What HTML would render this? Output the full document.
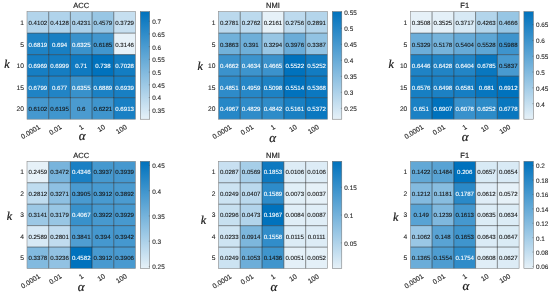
<!DOCTYPE html>
<html lang="en"><head><meta charset="utf-8"><title>Heatmaps</title><style>
html,body{margin:0;padding:0;background:#fff;}
body{width:550px;height:295px;overflow:hidden;}
svg{display:block;font-family:"Liberation Sans",sans-serif;text-rendering:geometricPrecision;}
text{stroke-width:0.1px;paint-order:stroke;}
.t,.yt,.xt,.ct{stroke:#262626;}
.cd{stroke:#151515;}
.cw{stroke:#fff;}
.c{font-size:6.1px;text-anchor:middle;}
.cd{fill:#151515;}
.cw{fill:#ffffff;}
.t{font-size:7.5px;stroke-width:0.2px;text-anchor:middle;fill:#262626;}
.yt{font-size:6.65px;text-anchor:end;fill:#262626;}
.xt{font-size:6.85px;stroke-width:0.15px;text-anchor:end;fill:#262626;}
.ct{font-size:6.4px;text-anchor:start;fill:#262626;}
.lb{font-family:"Liberation Serif",serif;font-style:italic;font-size:12px;text-anchor:middle;fill:#1a1a1a;stroke:#1a1a1a;stroke-width:0.22px;}
.la{font-size:13px;}
.gl{stroke:#1a1a1a;stroke-width:0.55;stroke-opacity:0.9;}
.bx{fill:none;stroke:#8a8a8a;stroke-width:0.6;}
.cbx{stroke:#6a6a6a;stroke-width:0.5;}
.tk{stroke:#333;stroke-width:0.35;}
</style></head><body>
<svg width="550" height="295" viewBox="0 0 550 295">
<defs><linearGradient id="cb" x1="0" y1="0" x2="0" y2="1"><stop offset="0" stop-color="#0072bd"/><stop offset="1" stop-color="#e6f1f8"/></linearGradient></defs>
<rect width="550" height="295" fill="#fff"/>
<g>
<rect x="27.00" y="11.60" width="21.74" height="21.57" fill="#b2d4eb"/>
<rect x="48.69" y="11.60" width="21.74" height="21.57" fill="#b0d3eb"/>
<rect x="70.38" y="11.60" width="21.74" height="21.57" fill="#abd0e9"/>
<rect x="92.07" y="11.60" width="21.74" height="21.57" fill="#98c6e4"/>
<rect x="113.76" y="11.60" width="21.74" height="21.57" fill="#c6dff0"/>
<rect x="27.00" y="33.12" width="21.74" height="21.57" fill="#1e83c5"/>
<rect x="48.69" y="33.12" width="21.74" height="21.57" fill="#187fc3"/>
<rect x="70.38" y="33.12" width="21.74" height="21.57" fill="#3992cc"/>
<rect x="92.07" y="33.12" width="21.74" height="21.57" fill="#4196ce"/>
<rect x="113.76" y="33.12" width="21.74" height="21.57" fill="#e6f1f8"/>
<rect x="27.00" y="54.64" width="21.74" height="21.57" fill="#167ec3"/>
<rect x="48.69" y="54.64" width="21.74" height="21.57" fill="#157dc2"/>
<rect x="70.38" y="54.64" width="21.74" height="21.57" fill="#0f7ac1"/>
<rect x="92.07" y="54.64" width="21.74" height="21.57" fill="#0072bd"/>
<rect x="113.76" y="54.64" width="21.74" height="21.57" fill="#137dc2"/>
<rect x="27.00" y="76.16" width="21.74" height="21.57" fill="#1f83c5"/>
<rect x="48.69" y="76.16" width="21.74" height="21.57" fill="#2184c6"/>
<rect x="70.38" y="76.16" width="21.74" height="21.57" fill="#3891cb"/>
<rect x="92.07" y="76.16" width="21.74" height="21.57" fill="#1b81c4"/>
<rect x="113.76" y="76.16" width="21.74" height="21.57" fill="#187fc3"/>
<rect x="27.00" y="97.68" width="21.74" height="21.57" fill="#4598cf"/>
<rect x="48.69" y="97.68" width="21.74" height="21.57" fill="#4096ce"/>
<rect x="70.38" y="97.68" width="21.74" height="21.57" fill="#4b9bd0"/>
<rect x="92.07" y="97.68" width="21.74" height="21.57" fill="#3f95cd"/>
<rect x="113.76" y="97.68" width="21.74" height="21.57" fill="#1980c4"/>
<line x1="48.69" y1="11.60" x2="48.69" y2="119.20" class="gl"/>
<line x1="27.00" y1="33.12" x2="135.45" y2="33.12" class="gl"/>
<line x1="70.38" y1="11.60" x2="70.38" y2="119.20" class="gl"/>
<line x1="27.00" y1="54.64" x2="135.45" y2="54.64" class="gl"/>
<line x1="92.07" y1="11.60" x2="92.07" y2="119.20" class="gl"/>
<line x1="27.00" y1="76.16" x2="135.45" y2="76.16" class="gl"/>
<line x1="113.76" y1="11.60" x2="113.76" y2="119.20" class="gl"/>
<line x1="27.00" y1="97.68" x2="135.45" y2="97.68" class="gl"/>
<rect x="27.00" y="11.60" width="108.45" height="107.60" class="bx"/>
<text x="37.84" y="25.06" class="c cd">0.4102</text>
<text x="59.54" y="25.06" class="c cd">0.4128</text>
<text x="81.22" y="25.06" class="c cd">0.4231</text>
<text x="102.92" y="25.06" class="c cd">0.4579</text>
<text x="124.61" y="25.06" class="c cd">0.3729</text>
<text x="37.84" y="46.58" class="c cw">0.6819</text>
<text x="59.54" y="46.58" class="c cw">0.694</text>
<text x="81.22" y="46.58" class="c cw">0.6325</text>
<text x="102.92" y="46.58" class="c cd">0.6185</text>
<text x="124.61" y="46.58" class="c cd">0.3146</text>
<text x="37.84" y="68.10" class="c cw">0.6969</text>
<text x="59.54" y="68.10" class="c cw">0.6999</text>
<text x="81.22" y="68.10" class="c cw">0.71</text>
<text x="102.92" y="68.10" class="c cw">0.738</text>
<text x="124.61" y="68.10" class="c cw">0.7028</text>
<text x="37.84" y="89.62" class="c cw">0.6799</text>
<text x="59.54" y="89.62" class="c cw">0.677</text>
<text x="81.22" y="89.62" class="c cw">0.6355</text>
<text x="102.92" y="89.62" class="c cw">0.6889</text>
<text x="124.61" y="89.62" class="c cw">0.6939</text>
<text x="37.84" y="111.14" class="c cd">0.6102</text>
<text x="59.54" y="111.14" class="c cd">0.6195</text>
<text x="81.22" y="111.14" class="c cd">0.6</text>
<text x="102.92" y="111.14" class="c cd">0.6221</text>
<text x="124.61" y="111.14" class="c cw">0.6913</text>
<text x="81.22" y="8.10" class="t">ACC</text>
<text x="24.00" y="25.26" class="yt">1</text>
<text x="24.00" y="46.78" class="yt">5</text>
<text x="24.00" y="68.30" class="yt">10</text>
<text x="24.00" y="89.82" class="yt">15</text>
<text x="24.00" y="111.34" class="yt">20</text>
<text transform="translate(38.34 124.60) rotate(-32)" x="0" y="4.3" class="xt">0.0001</text>
<text transform="translate(60.04 124.60) rotate(-32)" x="0" y="4.3" class="xt">0.01</text>
<text transform="translate(81.72 124.60) rotate(-32)" x="0" y="4.3" class="xt">1</text>
<text transform="translate(103.42 124.60) rotate(-32)" x="0" y="4.3" class="xt">10</text>
<text transform="translate(125.11 124.60) rotate(-32)" x="0" y="4.3" class="xt">100</text>
<text x="6.80" y="68.40" class="lb">k</text>
<text x="82.15" y="139.50" class="lb la">α</text>
<rect x="140.25" y="11.60" width="9.5" height="107.60" fill="url(#cb)" class="cbx"/>
<line x1="148.75" y1="110.20" x2="149.75" y2="110.20" class="tk"/>
<text x="152.25" y="113.05" class="ct">0.35</text>
<line x1="148.75" y1="97.50" x2="149.75" y2="97.50" class="tk"/>
<text x="152.25" y="100.35" class="ct">0.4</text>
<line x1="148.75" y1="84.79" x2="149.75" y2="84.79" class="tk"/>
<text x="152.25" y="87.64" class="ct">0.45</text>
<line x1="148.75" y1="72.08" x2="149.75" y2="72.08" class="tk"/>
<text x="152.25" y="74.93" class="ct">0.5</text>
<line x1="148.75" y1="59.38" x2="149.75" y2="59.38" class="tk"/>
<text x="152.25" y="62.23" class="ct">0.55</text>
<line x1="148.75" y1="46.67" x2="149.75" y2="46.67" class="tk"/>
<text x="152.25" y="49.52" class="ct">0.6</text>
<line x1="148.75" y1="33.96" x2="149.75" y2="33.96" class="tk"/>
<text x="152.25" y="36.81" class="ct">0.65</text>
<line x1="148.75" y1="21.26" x2="149.75" y2="21.26" class="tk"/>
<text x="152.25" y="24.11" class="ct">0.7</text>
</g>
<g>
<rect x="218.40" y="11.60" width="21.87" height="21.57" fill="#bbd9ed"/>
<rect x="240.22" y="11.60" width="21.87" height="21.57" fill="#bcdaee"/>
<rect x="262.04" y="11.60" width="21.87" height="21.57" fill="#e6f1f8"/>
<rect x="283.86" y="11.60" width="21.87" height="21.57" fill="#bddaee"/>
<rect x="305.68" y="11.60" width="21.87" height="21.57" fill="#b4d5eb"/>
<rect x="218.40" y="33.12" width="21.87" height="21.57" fill="#71b1da"/>
<rect x="240.22" y="33.12" width="21.87" height="21.57" fill="#6eafd9"/>
<rect x="262.04" y="33.12" width="21.87" height="21.57" fill="#98c6e4"/>
<rect x="283.86" y="33.12" width="21.87" height="21.57" fill="#6aacd8"/>
<rect x="305.68" y="33.12" width="21.87" height="21.57" fill="#92c3e3"/>
<rect x="218.40" y="54.64" width="21.87" height="21.57" fill="#3b92cc"/>
<rect x="240.22" y="54.64" width="21.87" height="21.57" fill="#3d94cd"/>
<rect x="262.04" y="54.64" width="21.87" height="21.57" fill="#3b92cc"/>
<rect x="283.86" y="54.64" width="21.87" height="21.57" fill="#0072bd"/>
<rect x="305.68" y="54.64" width="21.87" height="21.57" fill="#127cc2"/>
<rect x="218.40" y="76.16" width="21.87" height="21.57" fill="#2e8bc9"/>
<rect x="240.22" y="76.16" width="21.87" height="21.57" fill="#2687c7"/>
<rect x="262.04" y="76.16" width="21.87" height="21.57" fill="#1d82c4"/>
<rect x="283.86" y="76.16" width="21.87" height="21.57" fill="#0172bd"/>
<rect x="305.68" y="76.16" width="21.87" height="21.57" fill="#0b78c0"/>
<rect x="218.40" y="97.68" width="21.87" height="21.57" fill="#2687c7"/>
<rect x="240.22" y="97.68" width="21.87" height="21.57" fill="#2f8cc9"/>
<rect x="262.04" y="97.68" width="21.87" height="21.57" fill="#2e8cc9"/>
<rect x="283.86" y="97.68" width="21.87" height="21.57" fill="#1980c3"/>
<rect x="305.68" y="97.68" width="21.87" height="21.57" fill="#0a78c0"/>
<line x1="240.22" y1="11.60" x2="240.22" y2="119.20" class="gl"/>
<line x1="218.40" y1="33.12" x2="327.50" y2="33.12" class="gl"/>
<line x1="262.04" y1="11.60" x2="262.04" y2="119.20" class="gl"/>
<line x1="218.40" y1="54.64" x2="327.50" y2="54.64" class="gl"/>
<line x1="283.86" y1="11.60" x2="283.86" y2="119.20" class="gl"/>
<line x1="218.40" y1="76.16" x2="327.50" y2="76.16" class="gl"/>
<line x1="305.68" y1="11.60" x2="305.68" y2="119.20" class="gl"/>
<line x1="218.40" y1="97.68" x2="327.50" y2="97.68" class="gl"/>
<rect x="218.40" y="11.60" width="109.10" height="107.60" class="bx"/>
<text x="229.31" y="25.06" class="c cd">0.2781</text>
<text x="251.13" y="25.06" class="c cd">0.2762</text>
<text x="272.95" y="25.06" class="c cd">0.2161</text>
<text x="294.77" y="25.06" class="c cd">0.2756</text>
<text x="316.59" y="25.06" class="c cd">0.2891</text>
<text x="229.31" y="46.58" class="c cd">0.3863</text>
<text x="251.13" y="46.58" class="c cd">0.391</text>
<text x="272.95" y="46.58" class="c cd">0.3294</text>
<text x="294.77" y="46.58" class="c cd">0.3976</text>
<text x="316.59" y="46.58" class="c cd">0.3387</text>
<text x="229.31" y="68.10" class="c cw">0.4662</text>
<text x="251.13" y="68.10" class="c cw">0.4634</text>
<text x="272.95" y="68.10" class="c cw">0.4665</text>
<text x="294.77" y="68.10" class="c cw">0.5522</text>
<text x="316.59" y="68.10" class="c cw">0.5252</text>
<text x="229.31" y="89.62" class="c cw">0.4851</text>
<text x="251.13" y="89.62" class="c cw">0.4959</text>
<text x="272.95" y="89.62" class="c cw">0.5098</text>
<text x="294.77" y="89.62" class="c cw">0.5514</text>
<text x="316.59" y="89.62" class="c cw">0.5368</text>
<text x="229.31" y="111.14" class="c cw">0.4967</text>
<text x="251.13" y="111.14" class="c cw">0.4829</text>
<text x="272.95" y="111.14" class="c cw">0.4842</text>
<text x="294.77" y="111.14" class="c cw">0.5161</text>
<text x="316.59" y="111.14" class="c cw">0.5372</text>
<text x="272.95" y="8.10" class="t">NMI</text>
<text x="215.40" y="25.26" class="yt">1</text>
<text x="215.40" y="46.78" class="yt">5</text>
<text x="215.40" y="68.30" class="yt">10</text>
<text x="215.40" y="89.82" class="yt">15</text>
<text x="215.40" y="111.34" class="yt">20</text>
<text transform="translate(229.81 124.60) rotate(-32)" x="0" y="4.3" class="xt">0.0001</text>
<text transform="translate(251.63 124.60) rotate(-32)" x="0" y="4.3" class="xt">0.01</text>
<text transform="translate(273.45 124.60) rotate(-32)" x="0" y="4.3" class="xt">1</text>
<text transform="translate(295.27 124.60) rotate(-32)" x="0" y="4.3" class="xt">10</text>
<text transform="translate(317.09 124.60) rotate(-32)" x="0" y="4.3" class="xt">100</text>
<text x="200.05" y="70.00" class="lb">k</text>
<text x="272.70" y="142.00" class="lb la">α</text>
<rect x="332.30" y="11.60" width="9.5" height="107.60" fill="url(#cb)" class="cbx"/>
<line x1="340.80" y1="108.35" x2="341.80" y2="108.35" class="tk"/>
<text x="344.30" y="111.20" class="ct">0.25</text>
<line x1="340.80" y1="92.34" x2="341.80" y2="92.34" class="tk"/>
<text x="344.30" y="95.19" class="ct">0.3</text>
<line x1="340.80" y1="76.33" x2="341.80" y2="76.33" class="tk"/>
<text x="344.30" y="79.18" class="ct">0.35</text>
<line x1="340.80" y1="60.33" x2="341.80" y2="60.33" class="tk"/>
<text x="344.30" y="63.18" class="ct">0.4</text>
<line x1="340.80" y1="44.32" x2="341.80" y2="44.32" class="tk"/>
<text x="344.30" y="47.17" class="ct">0.45</text>
<line x1="340.80" y1="28.31" x2="341.80" y2="28.31" class="tk"/>
<text x="344.30" y="31.16" class="ct">0.5</text>
<line x1="340.80" y1="12.30" x2="341.80" y2="12.30" class="tk"/>
<text x="344.30" y="15.15" class="ct">0.55</text>
</g>
<g>
<rect x="410.30" y="11.60" width="21.81" height="21.57" fill="#e6f1f8"/>
<rect x="432.06" y="11.60" width="21.81" height="21.57" fill="#e4f0f8"/>
<rect x="453.82" y="11.60" width="21.81" height="21.57" fill="#d7e9f5"/>
<rect x="475.58" y="11.60" width="21.81" height="21.57" fill="#b3d5eb"/>
<rect x="497.34" y="11.60" width="21.81" height="21.57" fill="#97c6e4"/>
<rect x="410.30" y="33.12" width="21.81" height="21.57" fill="#6badd9"/>
<rect x="432.06" y="33.12" width="21.81" height="21.57" fill="#75b3db"/>
<rect x="453.82" y="33.12" width="21.81" height="21.57" fill="#66aad7"/>
<rect x="475.58" y="33.12" width="21.81" height="21.57" fill="#5da6d5"/>
<rect x="497.34" y="33.12" width="21.81" height="21.57" fill="#3e94cd"/>
<rect x="410.30" y="54.64" width="21.81" height="21.57" fill="#1f83c5"/>
<rect x="432.06" y="54.64" width="21.81" height="21.57" fill="#2184c5"/>
<rect x="453.82" y="54.64" width="21.81" height="21.57" fill="#2285c6"/>
<rect x="475.58" y="54.64" width="21.81" height="21.57" fill="#0977bf"/>
<rect x="497.34" y="54.64" width="21.81" height="21.57" fill="#489ad0"/>
<rect x="410.30" y="76.16" width="21.81" height="21.57" fill="#177fc3"/>
<rect x="432.06" y="76.16" width="21.81" height="21.57" fill="#1c81c4"/>
<rect x="453.82" y="76.16" width="21.81" height="21.57" fill="#167ec3"/>
<rect x="475.58" y="76.16" width="21.81" height="21.57" fill="#0776bf"/>
<rect x="497.34" y="76.16" width="21.81" height="21.57" fill="#0072bd"/>
<rect x="410.30" y="97.68" width="21.81" height="21.57" fill="#1b81c4"/>
<rect x="432.06" y="97.68" width="21.81" height="21.57" fill="#0072bd"/>
<rect x="453.82" y="97.68" width="21.81" height="21.57" fill="#3891cc"/>
<rect x="475.58" y="97.68" width="21.81" height="21.57" fill="#2c8bc8"/>
<rect x="497.34" y="97.68" width="21.81" height="21.57" fill="#0977bf"/>
<line x1="432.06" y1="11.60" x2="432.06" y2="119.20" class="gl"/>
<line x1="410.30" y1="33.12" x2="519.10" y2="33.12" class="gl"/>
<line x1="453.82" y1="11.60" x2="453.82" y2="119.20" class="gl"/>
<line x1="410.30" y1="54.64" x2="519.10" y2="54.64" class="gl"/>
<line x1="475.58" y1="11.60" x2="475.58" y2="119.20" class="gl"/>
<line x1="410.30" y1="76.16" x2="519.10" y2="76.16" class="gl"/>
<line x1="497.34" y1="11.60" x2="497.34" y2="119.20" class="gl"/>
<line x1="410.30" y1="97.68" x2="519.10" y2="97.68" class="gl"/>
<rect x="410.30" y="11.60" width="108.80" height="107.60" class="bx"/>
<text x="421.18" y="25.06" class="c cd">0.3508</text>
<text x="442.94" y="25.06" class="c cd">0.3525</text>
<text x="464.70" y="25.06" class="c cd">0.3717</text>
<text x="486.46" y="25.06" class="c cd">0.4263</text>
<text x="508.22" y="25.06" class="c cd">0.4666</text>
<text x="421.18" y="46.58" class="c cd">0.5329</text>
<text x="442.94" y="46.58" class="c cd">0.5178</text>
<text x="464.70" y="46.58" class="c cd">0.5404</text>
<text x="486.46" y="46.58" class="c cd">0.5528</text>
<text x="508.22" y="46.58" class="c cd">0.5988</text>
<text x="421.18" y="68.10" class="c cw">0.6446</text>
<text x="442.94" y="68.10" class="c cw">0.6428</text>
<text x="464.70" y="68.10" class="c cw">0.6404</text>
<text x="486.46" y="68.10" class="c cw">0.6785</text>
<text x="508.22" y="68.10" class="c cd">0.5837</text>
<text x="421.18" y="89.62" class="c cw">0.6576</text>
<text x="442.94" y="89.62" class="c cw">0.6498</text>
<text x="464.70" y="89.62" class="c cw">0.6581</text>
<text x="486.46" y="89.62" class="c cw">0.681</text>
<text x="508.22" y="89.62" class="c cw">0.6912</text>
<text x="421.18" y="111.14" class="c cw">0.651</text>
<text x="442.94" y="111.14" class="c cw">0.6907</text>
<text x="464.70" y="111.14" class="c cw">0.6078</text>
<text x="486.46" y="111.14" class="c cw">0.6252</text>
<text x="508.22" y="111.14" class="c cw">0.6778</text>
<text x="464.70" y="8.10" class="t">F1</text>
<text x="407.30" y="25.26" class="yt">1</text>
<text x="407.30" y="46.78" class="yt">5</text>
<text x="407.30" y="68.30" class="yt">10</text>
<text x="407.30" y="89.82" class="yt">15</text>
<text x="407.30" y="111.34" class="yt">20</text>
<text transform="translate(421.68 124.60) rotate(-32)" x="0" y="4.3" class="xt">0.0001</text>
<text transform="translate(443.44 124.60) rotate(-32)" x="0" y="4.3" class="xt">0.01</text>
<text transform="translate(465.20 124.60) rotate(-32)" x="0" y="4.3" class="xt">1</text>
<text transform="translate(486.96 124.60) rotate(-32)" x="0" y="4.3" class="xt">10</text>
<text transform="translate(508.72 124.60) rotate(-32)" x="0" y="4.3" class="xt">100</text>
<text x="391.15" y="68.40" class="lb">k</text>
<text x="465.10" y="140.80" class="lb la">α</text>
<rect x="523.90" y="11.60" width="9.5" height="107.60" fill="url(#cb)" class="cbx"/>
<line x1="532.40" y1="103.65" x2="533.40" y2="103.65" class="tk"/>
<text x="535.90" y="106.50" class="ct">0.4</text>
<line x1="532.40" y1="87.84" x2="533.40" y2="87.84" class="tk"/>
<text x="535.90" y="90.69" class="ct">0.45</text>
<line x1="532.40" y1="72.04" x2="533.40" y2="72.04" class="tk"/>
<text x="535.90" y="74.89" class="ct">0.5</text>
<line x1="532.40" y1="56.23" x2="533.40" y2="56.23" class="tk"/>
<text x="535.90" y="59.08" class="ct">0.55</text>
<line x1="532.40" y1="40.43" x2="533.40" y2="40.43" class="tk"/>
<text x="535.90" y="43.28" class="ct">0.6</text>
<line x1="532.40" y1="24.62" x2="533.40" y2="24.62" class="tk"/>
<text x="535.90" y="27.47" class="ct">0.65</text>
</g>
<g>
<rect x="27.00" y="161.30" width="21.74" height="21.49" fill="#e6f1f8"/>
<rect x="48.69" y="161.30" width="21.74" height="21.49" fill="#78b4dc"/>
<rect x="70.38" y="161.30" width="21.74" height="21.49" fill="#1a80c4"/>
<rect x="92.07" y="161.30" width="21.74" height="21.49" fill="#4699cf"/>
<rect x="113.76" y="161.30" width="21.74" height="21.49" fill="#4698cf"/>
<rect x="27.00" y="182.74" width="21.74" height="21.49" fill="#bfdcef"/>
<rect x="48.69" y="182.74" width="21.74" height="21.49" fill="#8ec0e2"/>
<rect x="70.38" y="182.74" width="21.74" height="21.49" fill="#499ad0"/>
<rect x="92.07" y="182.74" width="21.74" height="21.49" fill="#489ad0"/>
<rect x="113.76" y="182.74" width="21.74" height="21.49" fill="#4b9bd0"/>
<rect x="27.00" y="204.18" width="21.74" height="21.49" fill="#9cc8e5"/>
<rect x="48.69" y="204.18" width="21.74" height="21.49" fill="#98c6e4"/>
<rect x="70.38" y="204.18" width="21.74" height="21.49" fill="#3891cb"/>
<rect x="92.07" y="204.18" width="21.74" height="21.49" fill="#4799cf"/>
<rect x="113.76" y="204.18" width="21.74" height="21.49" fill="#4799cf"/>
<rect x="27.00" y="225.62" width="21.74" height="21.49" fill="#d7e9f5"/>
<rect x="48.69" y="225.62" width="21.74" height="21.49" fill="#c1dcef"/>
<rect x="70.38" y="225.62" width="21.74" height="21.49" fill="#509ed2"/>
<rect x="92.07" y="225.62" width="21.74" height="21.49" fill="#4598cf"/>
<rect x="113.76" y="225.62" width="21.74" height="21.49" fill="#4598cf"/>
<rect x="27.00" y="247.06" width="21.74" height="21.49" fill="#82badf"/>
<rect x="48.69" y="247.06" width="21.74" height="21.49" fill="#92c2e3"/>
<rect x="70.38" y="247.06" width="21.74" height="21.49" fill="#0072bd"/>
<rect x="92.07" y="247.06" width="21.74" height="21.49" fill="#489ad0"/>
<rect x="113.76" y="247.06" width="21.74" height="21.49" fill="#499ad0"/>
<line x1="48.69" y1="161.30" x2="48.69" y2="268.50" class="gl"/>
<line x1="27.00" y1="182.74" x2="135.45" y2="182.74" class="gl"/>
<line x1="70.38" y1="161.30" x2="70.38" y2="268.50" class="gl"/>
<line x1="27.00" y1="204.18" x2="135.45" y2="204.18" class="gl"/>
<line x1="92.07" y1="161.30" x2="92.07" y2="268.50" class="gl"/>
<line x1="27.00" y1="225.62" x2="135.45" y2="225.62" class="gl"/>
<line x1="113.76" y1="161.30" x2="113.76" y2="268.50" class="gl"/>
<line x1="27.00" y1="247.06" x2="135.45" y2="247.06" class="gl"/>
<rect x="27.00" y="161.30" width="108.45" height="107.20" class="bx"/>
<text x="37.84" y="174.32" class="c cd">0.2459</text>
<text x="59.54" y="174.32" class="c cd">0.3472</text>
<text x="81.22" y="174.32" class="c cw">0.4346</text>
<text x="102.92" y="174.32" class="c cd">0.3937</text>
<text x="124.61" y="174.32" class="c cd">0.3939</text>
<text x="37.84" y="195.76" class="c cd">0.2812</text>
<text x="59.54" y="195.76" class="c cd">0.3271</text>
<text x="81.22" y="195.76" class="c cd">0.3905</text>
<text x="102.92" y="195.76" class="c cd">0.3912</text>
<text x="124.61" y="195.76" class="c cd">0.3892</text>
<text x="37.84" y="217.20" class="c cd">0.3141</text>
<text x="59.54" y="217.20" class="c cd">0.3179</text>
<text x="81.22" y="217.20" class="c cw">0.4067</text>
<text x="102.92" y="217.20" class="c cd">0.3922</text>
<text x="124.61" y="217.20" class="c cd">0.3929</text>
<text x="37.84" y="238.64" class="c cd">0.2589</text>
<text x="59.54" y="238.64" class="c cd">0.2801</text>
<text x="81.22" y="238.64" class="c cd">0.3841</text>
<text x="102.92" y="238.64" class="c cd">0.394</text>
<text x="124.61" y="238.64" class="c cd">0.3942</text>
<text x="37.84" y="260.08" class="c cd">0.3378</text>
<text x="59.54" y="260.08" class="c cd">0.3236</text>
<text x="81.22" y="260.08" class="c cw">0.4582</text>
<text x="102.92" y="260.08" class="c cd">0.3912</text>
<text x="124.61" y="260.08" class="c cd">0.3906</text>
<text x="81.22" y="157.80" class="t">ACC</text>
<text x="24.00" y="174.42" class="yt">1</text>
<text x="24.00" y="195.86" class="yt">2</text>
<text x="24.00" y="217.30" class="yt">3</text>
<text x="24.00" y="238.74" class="yt">4</text>
<text x="24.00" y="260.18" class="yt">5</text>
<text transform="translate(38.34 273.90) rotate(-32)" x="0" y="4.3" class="xt">0.0001</text>
<text transform="translate(60.04 273.90) rotate(-32)" x="0" y="4.3" class="xt">0.01</text>
<text transform="translate(81.72 273.90) rotate(-32)" x="0" y="4.3" class="xt">1</text>
<text transform="translate(103.42 273.90) rotate(-32)" x="0" y="4.3" class="xt">10</text>
<text transform="translate(125.11 273.90) rotate(-32)" x="0" y="4.3" class="xt">100</text>
<text x="9.50" y="220.00" class="lb">k</text>
<text x="81.25" y="291.30" class="lb la">α</text>
<rect x="140.25" y="161.30" width="9.5" height="107.20" fill="url(#cb)" class="cbx"/>
<line x1="148.75" y1="266.43" x2="149.75" y2="266.43" class="tk"/>
<text x="152.25" y="269.28" class="ct">0.25</text>
<line x1="148.75" y1="241.18" x2="149.75" y2="241.18" class="tk"/>
<text x="152.25" y="244.03" class="ct">0.3</text>
<line x1="148.75" y1="215.94" x2="149.75" y2="215.94" class="tk"/>
<text x="152.25" y="218.79" class="ct">0.35</text>
<line x1="148.75" y1="190.69" x2="149.75" y2="190.69" class="tk"/>
<text x="152.25" y="193.54" class="ct">0.4</text>
<line x1="148.75" y1="165.44" x2="149.75" y2="165.44" class="tk"/>
<text x="152.25" y="168.29" class="ct">0.45</text>
</g>
<g>
<rect x="218.40" y="161.30" width="21.87" height="21.51" fill="#c8e0f1"/>
<rect x="240.22" y="161.30" width="21.87" height="21.51" fill="#a6cee8"/>
<rect x="262.04" y="161.30" width="21.87" height="21.51" fill="#0e79c0"/>
<rect x="283.86" y="161.30" width="21.87" height="21.51" fill="#ddecf6"/>
<rect x="305.68" y="161.30" width="21.87" height="21.51" fill="#ddecf6"/>
<rect x="218.40" y="182.76" width="21.87" height="21.51" fill="#cce3f2"/>
<rect x="240.22" y="182.76" width="21.87" height="21.51" fill="#bad9ed"/>
<rect x="262.04" y="182.76" width="21.87" height="21.51" fill="#2d8bc9"/>
<rect x="283.86" y="182.76" width="21.87" height="21.51" fill="#e1eff7"/>
<rect x="305.68" y="182.76" width="21.87" height="21.51" fill="#e6f1f8"/>
<rect x="218.40" y="204.22" width="21.87" height="21.51" fill="#c7e0f0"/>
<rect x="240.22" y="204.22" width="21.87" height="21.51" fill="#b2d4eb"/>
<rect x="262.04" y="204.22" width="21.87" height="21.51" fill="#0072bd"/>
<rect x="283.86" y="204.22" width="21.87" height="21.51" fill="#e0eef7"/>
<rect x="305.68" y="204.22" width="21.87" height="21.51" fill="#e0eef7"/>
<rect x="218.40" y="225.68" width="21.87" height="21.51" fill="#cee4f2"/>
<rect x="240.22" y="225.68" width="21.87" height="21.51" fill="#7db7dd"/>
<rect x="262.04" y="225.68" width="21.87" height="21.51" fill="#318dca"/>
<rect x="283.86" y="225.68" width="21.87" height="21.51" fill="#dcecf6"/>
<rect x="305.68" y="225.68" width="21.87" height="21.51" fill="#ddecf6"/>
<rect x="218.40" y="247.14" width="21.87" height="21.51" fill="#cce3f2"/>
<rect x="240.22" y="247.14" width="21.87" height="21.51" fill="#6daed9"/>
<rect x="262.04" y="247.14" width="21.87" height="21.51" fill="#3f95cd"/>
<rect x="283.86" y="247.14" width="21.87" height="21.51" fill="#e4f0f8"/>
<rect x="305.68" y="247.14" width="21.87" height="21.51" fill="#e4f0f8"/>
<line x1="240.22" y1="161.30" x2="240.22" y2="268.60" class="gl"/>
<line x1="218.40" y1="182.76" x2="327.50" y2="182.76" class="gl"/>
<line x1="262.04" y1="161.30" x2="262.04" y2="268.60" class="gl"/>
<line x1="218.40" y1="204.22" x2="327.50" y2="204.22" class="gl"/>
<line x1="283.86" y1="161.30" x2="283.86" y2="268.60" class="gl"/>
<line x1="218.40" y1="225.68" x2="327.50" y2="225.68" class="gl"/>
<line x1="305.68" y1="161.30" x2="305.68" y2="268.60" class="gl"/>
<line x1="218.40" y1="247.14" x2="327.50" y2="247.14" class="gl"/>
<rect x="218.40" y="161.30" width="109.10" height="107.30" class="bx"/>
<text x="229.31" y="174.33" class="c cd">0.0287</text>
<text x="251.13" y="174.33" class="c cd">0.0569</text>
<text x="272.95" y="174.33" class="c cw">0.1853</text>
<text x="294.77" y="174.33" class="c cd">0.0106</text>
<text x="316.59" y="174.33" class="c cd">0.0106</text>
<text x="229.31" y="195.79" class="c cd">0.0249</text>
<text x="251.13" y="195.79" class="c cd">0.0407</text>
<text x="272.95" y="195.79" class="c cw">0.1589</text>
<text x="294.77" y="195.79" class="c cd">0.0073</text>
<text x="316.59" y="195.79" class="c cd">0.0037</text>
<text x="229.31" y="217.25" class="c cd">0.0296</text>
<text x="251.13" y="217.25" class="c cd">0.0473</text>
<text x="272.95" y="217.25" class="c cw">0.1967</text>
<text x="294.77" y="217.25" class="c cd">0.0084</text>
<text x="316.59" y="217.25" class="c cd">0.0087</text>
<text x="229.31" y="238.71" class="c cd">0.0233</text>
<text x="251.13" y="238.71" class="c cd">0.0914</text>
<text x="272.95" y="238.71" class="c cw">0.1558</text>
<text x="294.77" y="238.71" class="c cd">0.0115</text>
<text x="316.59" y="238.71" class="c cd">0.0111</text>
<text x="229.31" y="260.17" class="c cd">0.0249</text>
<text x="251.13" y="260.17" class="c cd">0.1053</text>
<text x="272.95" y="260.17" class="c cd">0.1436</text>
<text x="294.77" y="260.17" class="c cd">0.0051</text>
<text x="316.59" y="260.17" class="c cd">0.0052</text>
<text x="272.95" y="157.80" class="t">NMI</text>
<text x="215.40" y="174.43" class="yt">1</text>
<text x="215.40" y="195.89" class="yt">2</text>
<text x="215.40" y="217.35" class="yt">3</text>
<text x="215.40" y="238.81" class="yt">4</text>
<text x="215.40" y="260.27" class="yt">5</text>
<text transform="translate(229.81 274.00) rotate(-32)" x="0" y="4.3" class="xt">0.0001</text>
<text transform="translate(251.63 274.00) rotate(-32)" x="0" y="4.3" class="xt">0.01</text>
<text transform="translate(273.45 274.00) rotate(-32)" x="0" y="4.3" class="xt">1</text>
<text transform="translate(295.27 274.00) rotate(-32)" x="0" y="4.3" class="xt">10</text>
<text transform="translate(317.09 274.00) rotate(-32)" x="0" y="4.3" class="xt">100</text>
<text x="203.30" y="223.80" class="lb">k</text>
<text x="273.95" y="290.80" class="lb la">α</text>
<rect x="332.30" y="161.30" width="9.5" height="107.30" fill="url(#cb)" class="cbx"/>
<line x1="340.80" y1="242.86" x2="341.80" y2="242.86" class="tk"/>
<text x="344.30" y="245.71" class="ct">0.05</text>
<line x1="340.80" y1="215.06" x2="341.80" y2="215.06" class="tk"/>
<text x="344.30" y="217.91" class="ct">0.1</text>
<line x1="340.80" y1="187.26" x2="341.80" y2="187.26" class="tk"/>
<text x="344.30" y="190.11" class="ct">0.15</text>
</g>
<g>
<rect x="410.30" y="161.30" width="21.81" height="21.49" fill="#62a8d6"/>
<rect x="432.06" y="161.30" width="21.81" height="21.49" fill="#59a3d4"/>
<rect x="453.82" y="161.30" width="21.81" height="21.49" fill="#0072bd"/>
<rect x="475.58" y="161.30" width="21.81" height="21.49" fill="#d8eaf5"/>
<rect x="497.34" y="161.30" width="21.81" height="21.49" fill="#d9eaf5"/>
<rect x="410.30" y="182.74" width="21.81" height="21.49" fill="#83badf"/>
<rect x="432.06" y="182.74" width="21.81" height="21.49" fill="#88bde0"/>
<rect x="453.82" y="182.74" width="21.81" height="21.49" fill="#2a89c8"/>
<rect x="475.58" y="182.74" width="21.81" height="21.49" fill="#dfedf7"/>
<rect x="497.34" y="182.74" width="21.81" height="21.49" fill="#e6f1f8"/>
<rect x="410.30" y="204.18" width="21.81" height="21.49" fill="#58a3d4"/>
<rect x="432.06" y="204.18" width="21.81" height="21.49" fill="#7fb8de"/>
<rect x="453.82" y="204.18" width="21.81" height="21.49" fill="#4598cf"/>
<rect x="475.58" y="204.18" width="21.81" height="21.49" fill="#dcecf6"/>
<rect x="497.34" y="204.18" width="21.81" height="21.49" fill="#dcecf6"/>
<rect x="410.30" y="225.62" width="21.81" height="21.49" fill="#9ac7e5"/>
<rect x="432.06" y="225.62" width="21.81" height="21.49" fill="#59a3d4"/>
<rect x="453.82" y="225.62" width="21.81" height="21.49" fill="#3f95cd"/>
<rect x="475.58" y="225.62" width="21.81" height="21.49" fill="#dbebf6"/>
<rect x="497.34" y="225.62" width="21.81" height="21.49" fill="#daebf5"/>
<rect x="410.30" y="247.06" width="21.81" height="21.49" fill="#6badd9"/>
<rect x="432.06" y="247.06" width="21.81" height="21.49" fill="#4e9dd1"/>
<rect x="453.82" y="247.06" width="21.81" height="21.49" fill="#2f8cc9"/>
<rect x="475.58" y="247.06" width="21.81" height="21.49" fill="#e0eef7"/>
<rect x="497.34" y="247.06" width="21.81" height="21.49" fill="#ddecf6"/>
<line x1="432.06" y1="161.30" x2="432.06" y2="268.50" class="gl"/>
<line x1="410.30" y1="182.74" x2="519.10" y2="182.74" class="gl"/>
<line x1="453.82" y1="161.30" x2="453.82" y2="268.50" class="gl"/>
<line x1="410.30" y1="204.18" x2="519.10" y2="204.18" class="gl"/>
<line x1="475.58" y1="161.30" x2="475.58" y2="268.50" class="gl"/>
<line x1="410.30" y1="225.62" x2="519.10" y2="225.62" class="gl"/>
<line x1="497.34" y1="161.30" x2="497.34" y2="268.50" class="gl"/>
<line x1="410.30" y1="247.06" x2="519.10" y2="247.06" class="gl"/>
<rect x="410.30" y="161.30" width="108.80" height="107.20" class="bx"/>
<text x="421.18" y="174.32" class="c cd">0.1422</text>
<text x="442.94" y="174.32" class="c cd">0.1484</text>
<text x="464.70" y="174.32" class="c cw">0.206</text>
<text x="486.46" y="174.32" class="c cd">0.0657</text>
<text x="508.22" y="174.32" class="c cd">0.0654</text>
<text x="421.18" y="195.76" class="c cd">0.1212</text>
<text x="442.94" y="195.76" class="c cd">0.1181</text>
<text x="464.70" y="195.76" class="c cw">0.1787</text>
<text x="486.46" y="195.76" class="c cd">0.0612</text>
<text x="508.22" y="195.76" class="c cd">0.0572</text>
<text x="421.18" y="217.20" class="c cd">0.149</text>
<text x="442.94" y="217.20" class="c cd">0.1239</text>
<text x="464.70" y="217.20" class="c cd">0.1613</text>
<text x="486.46" y="217.20" class="c cd">0.0635</text>
<text x="508.22" y="217.20" class="c cd">0.0634</text>
<text x="421.18" y="238.64" class="c cd">0.1062</text>
<text x="442.94" y="238.64" class="c cd">0.148</text>
<text x="464.70" y="238.64" class="c cd">0.1653</text>
<text x="486.46" y="238.64" class="c cd">0.0643</text>
<text x="508.22" y="238.64" class="c cd">0.0647</text>
<text x="421.18" y="260.08" class="c cd">0.1365</text>
<text x="442.94" y="260.08" class="c cd">0.1554</text>
<text x="464.70" y="260.08" class="c cw">0.1754</text>
<text x="486.46" y="260.08" class="c cd">0.0608</text>
<text x="508.22" y="260.08" class="c cd">0.0627</text>
<text x="464.70" y="157.80" class="t">F1</text>
<text x="407.30" y="174.42" class="yt">1</text>
<text x="407.30" y="195.86" class="yt">2</text>
<text x="407.30" y="217.30" class="yt">3</text>
<text x="407.30" y="238.74" class="yt">4</text>
<text x="407.30" y="260.18" class="yt">5</text>
<text transform="translate(421.68 273.90) rotate(-32)" x="0" y="4.3" class="xt">0.0001</text>
<text transform="translate(443.44 273.90) rotate(-32)" x="0" y="4.3" class="xt">0.01</text>
<text transform="translate(465.20 273.90) rotate(-32)" x="0" y="4.3" class="xt">1</text>
<text transform="translate(486.96 273.90) rotate(-32)" x="0" y="4.3" class="xt">10</text>
<text transform="translate(508.72 273.90) rotate(-32)" x="0" y="4.3" class="xt">100</text>
<text x="395.65" y="220.70" class="lb">k</text>
<text x="465.85" y="290.00" class="lb la">α</text>
<rect x="523.90" y="161.30" width="9.5" height="107.20" fill="url(#cb)" class="cbx"/>
<line x1="532.40" y1="266.48" x2="533.40" y2="266.48" class="tk"/>
<text x="535.90" y="269.33" class="ct">0.06</text>
<line x1="532.40" y1="252.07" x2="533.40" y2="252.07" class="tk"/>
<text x="535.90" y="254.92" class="ct">0.08</text>
<line x1="532.40" y1="237.67" x2="533.40" y2="237.67" class="tk"/>
<text x="535.90" y="240.52" class="ct">0.1</text>
<line x1="532.40" y1="223.26" x2="533.40" y2="223.26" class="tk"/>
<text x="535.90" y="226.11" class="ct">0.12</text>
<line x1="532.40" y1="208.85" x2="533.40" y2="208.85" class="tk"/>
<text x="535.90" y="211.70" class="ct">0.14</text>
<line x1="532.40" y1="194.44" x2="533.40" y2="194.44" class="tk"/>
<text x="535.90" y="197.29" class="ct">0.16</text>
<line x1="532.40" y1="180.03" x2="533.40" y2="180.03" class="tk"/>
<text x="535.90" y="182.88" class="ct">0.18</text>
<line x1="532.40" y1="165.62" x2="533.40" y2="165.62" class="tk"/>
<text x="535.90" y="168.47" class="ct">0.2</text>
</g>
</svg>
</body></html>
